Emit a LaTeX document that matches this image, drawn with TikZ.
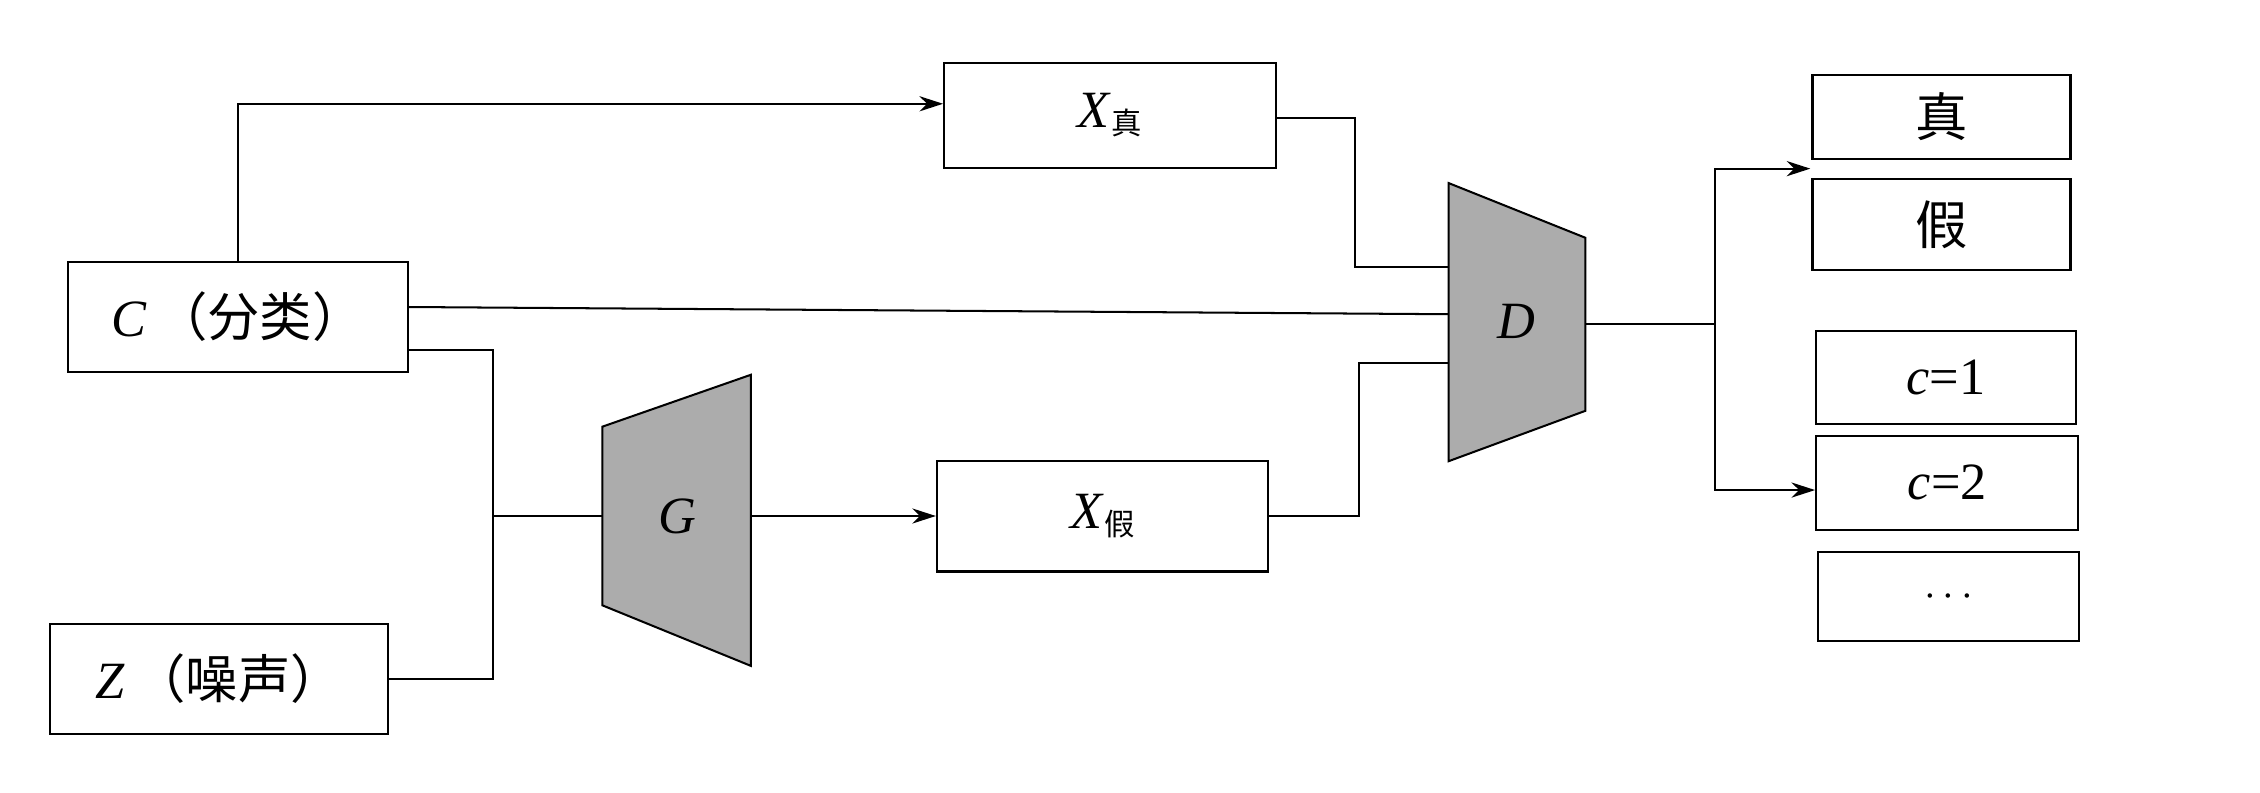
\documentclass[tikz,border=0pt]{standalone}
\usepackage{fontspec}
\setmainfont{Liberation Serif}
\newfontfamily\cjk{Noto Sans CJK SC}
\usetikzlibrary{arrows.meta}
\begin{document}
\begin{tikzpicture}[x=0.03cm,y=-0.03cm,
  box/.style={draw,line width=1.2pt,fill=white,inner sep=0pt},
  trap/.style={draw,line width=1.2pt,fill=gray!65},
  wire/.style={line width=1.2pt},
  arr/.style={wire,-{Stealth[length=14pt,width=9pt]}},
  lbl/.style={font=\fontsize{31}{35}\selectfont}]
\useasboundingbox (0,0) rectangle (1568,550);
\node[box,minimum width=236*0.03cm,minimum height=76*0.03cm,lbl] (C) at (165,220) {\textit{C}\,{\cjk（分类）}};
\node[box,minimum width=235*0.03cm,minimum height=76*0.03cm,lbl] (Z) at (152,471) {\textit{Z}\,{\cjk（噪声）}};
\node[box,minimum width=230*0.03cm,minimum height=73*0.03cm,lbl] (XT) at (770,80) {\textit{X}{\cjk\fontsize{18}{20}\selectfont\raisebox{-4pt}{真}}};
\node[box,minimum width=230*0.03cm,minimum height=77*0.03cm,lbl] (XF) at (765,358) {\textit{X}{\cjk\fontsize{18}{20}\selectfont\raisebox{-4pt}{假}}};
\draw[trap] (418,296) -- (521,260) -- (521,462) -- (418,420) -- cycle;
\node[lbl] (G) at (470,358) {\textit{G}};
\draw[trap] (1005,127) -- (1100,165) -- (1100,285) -- (1005,320) -- cycle;
\node[lbl] (D) at (1052,223) {\textit{D}};
\coordinate (Gl) at (418,358); \coordinate (Gr) at (521,358);
\coordinate (Dr) at (1100,225);
\node[box,minimum width=179*0.03cm,minimum height=58*0.03cm,lbl] (R1) at (1347,81) {\cjk 真};
\node[box,minimum width=179*0.03cm,minimum height=63*0.03cm,lbl] (R2) at (1347,156) {\cjk 假};
\node[box,minimum width=180*0.03cm,minimum height=65*0.03cm,lbl] (R3) at (1350,262) {\textit{c}=1};
\node[box,minimum width=182*0.03cm,minimum height=65*0.03cm,lbl] (R4) at (1351,335) {\textit{c}=2};
\node[box,minimum width=181*0.03cm,minimum height=62*0.03cm,lbl] (R5) at (1352,414) {$\cdots$};
% wires
\draw[arr] (165,182) -- (165,72) -- (XT.west |- 0,72);
\draw[wire] (XT.east |- 0,82) -- (940,82) -- (940,185) -- (1005,185);
\draw[wire] (C.east |- 0,213) -- (1005,218);
\draw[wire] (C.east |- 0,243) -- (342,243) -- (342,471) -- (Z.east);
\draw[wire] (342,358) -- (Gl);
\draw[arr] (Gr) -- (XF.west);
\draw[wire] (XF.east) -- (943,358) -- (943,252) -- (1005,252);
\draw[wire] (Dr) -- (1190,225);
\draw[arr] (1190,225) -- (1190,117) -- (1256,117);
\draw[arr] (1190,225) -- (1190,340) -- (R4.west |- 0,340);
\end{tikzpicture}
\end{document}
